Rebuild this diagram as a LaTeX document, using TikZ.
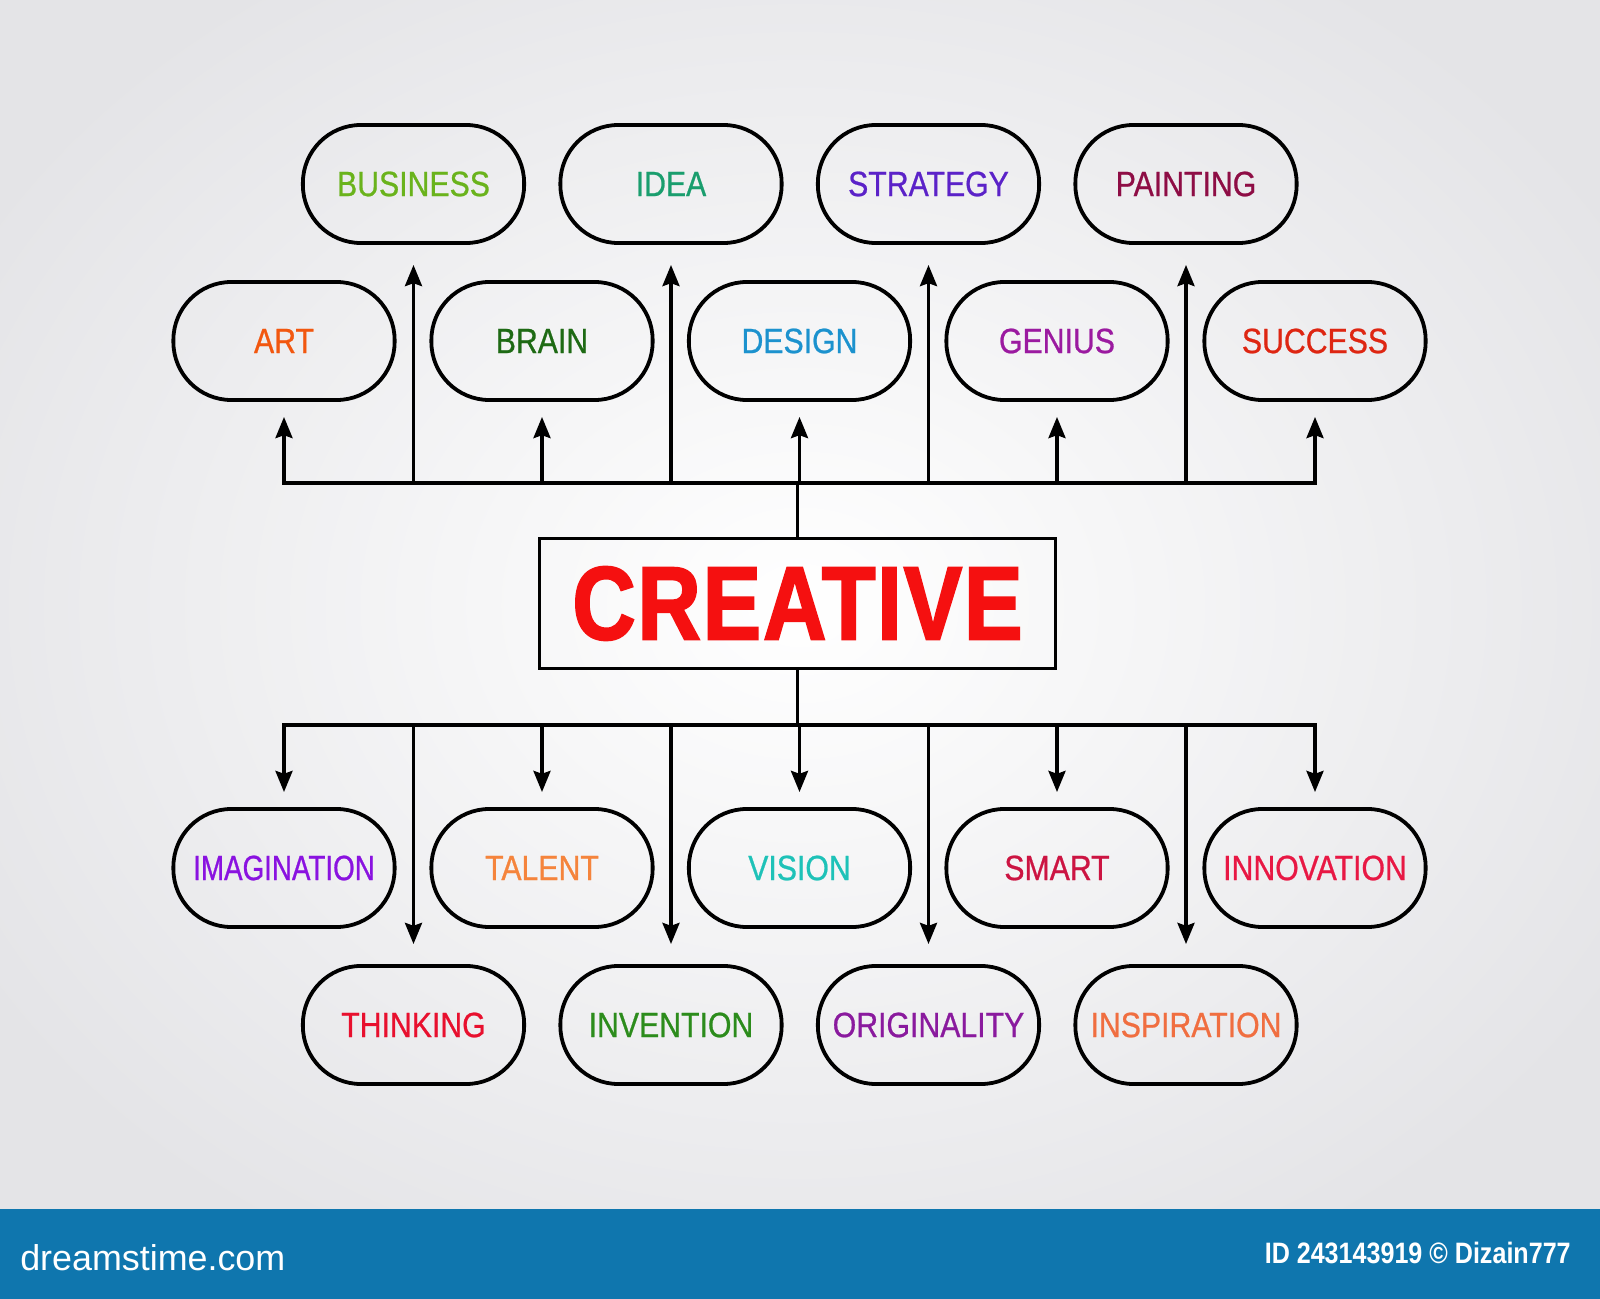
\documentclass[tikz,border=0pt]{standalone}
\usepackage{fontspec}
\usetikzlibrary{arrows.meta}
\newfontfamily\labfont[FakeStretch=0.86,FakeBold=0.7]{Liberation Sans}
\newfontfamily\narrowlabfont[FakeStretch=0.79,FakeBold=0.7]{Liberation Sans}
\newfontfamily\bigfont[FakeStretch=0.84,FakeBold=2,LetterSpace=2]{Liberation Sans Bold}
\newfontfamily\bannerfont{Liberation Sans}
\newfontfamily\idfont[FakeStretch=0.85]{Liberation Sans Bold}
\definecolor{cBusiness}{HTML}{6AB31C}
\definecolor{cIdea}{HTML}{1A9E6E}
\definecolor{cStrategy}{HTML}{5B22C8}
\definecolor{cPainting}{HTML}{8E0D45}
\definecolor{cArt}{HTML}{F2570F}
\definecolor{cBrain}{HTML}{1E6A14}
\definecolor{cDesign}{HTML}{1C92CE}
\definecolor{cGenius}{HTML}{9B1AA0}
\definecolor{cSuccess}{HTML}{DE2612}
\definecolor{cImag}{HTML}{8A12E0}
\definecolor{cTalent}{HTML}{F5843C}
\definecolor{cVision}{HTML}{1EC2B8}
\definecolor{cSmart}{HTML}{CC1442}
\definecolor{cInnov}{HTML}{E81844}
\definecolor{cThink}{HTML}{E8102E}
\definecolor{cInvent}{HTML}{2C8C1C}
\definecolor{cOrig}{HTML}{8A1A9E}
\definecolor{cInsp}{HTML}{F06E40}
\definecolor{cCreative}{HTML}{F51010}
\definecolor{cBanner}{HTML}{0F76AE}
\definecolor{cBg}{HTML}{E4E4E7}
\tikzset{
  bub/.style={draw=black, line width=2.7pt, rounded corners=1.45cm,
    minimum width=5.53cm, minimum height=2.95cm, inner sep=0pt,
    font=\labfont\fontsize{25pt}{25pt}\selectfont},
  wire/.style={draw=black, line width=2.7pt},
  arr/.style={wire, -{Stealth[length=15pt,width=12pt,inset=2pt]}},
  shortarr/.style={arr, shorten >=0.375cm},
  longarr/.style={arr, shorten >=0.5cm},
}
\begin{document}
\begin{tikzpicture}[x=0.025cm,y=-0.025cm]
\useasboundingbox (0,0) rectangle (1600,1299);
% background
\shade[inner color=white, outer color=cBg] (-150,-150) rectangle (1750,1360);
\fill[cBanner] (0,1209) rectangle (1600,1299);
% central node
\node[draw=black, line width=2.7pt, minimum width=12.9cm, minimum height=3.25cm,
  inner sep=0pt, text=cCreative, font=\bigfont\fontsize{74pt}{74pt}\selectfont]
  (C) at (797.5,603.5) {CREATIVE};
% top rows
\node[bub, text=cBusiness] (business) at (413.5,184) {BUSINESS};
\node[bub, text=cIdea] (idea) at (671,184) {IDEA};
\node[bub, text=cStrategy] (strategy) at (928.5,184) {STRATEGY};
\node[bub, text=cPainting] (painting) at (1186,184) {PAINTING};
\node[bub, text=cArt] (art) at (284,341) {ART};
\node[bub, text=cBrain] (brain) at (542,341) {BRAIN};
\node[bub, text=cDesign] (design) at (799.5,341) {DESIGN};
\node[bub, text=cGenius] (genius) at (1057,341) {GENIUS};
\node[bub, text=cSuccess] (success) at (1315,341) {SUCCESS};
% bottom rows
\node[bub, text=cImag, font=\narrowlabfont\fontsize{25pt}{25pt}\selectfont] (imagination) at (284,868) {IMAGINATION};
\node[bub, text=cTalent] (talent) at (542,868) {TALENT};
\node[bub, text=cVision] (vision) at (799.5,868) {VISION};
\node[bub, text=cSmart] (smart) at (1057,868) {SMART};
\node[bub, text=cInnov] (innovation) at (1315,868) {INNOVATION};
\node[bub, text=cThink] (thinking) at (413.5,1025) {THINKING};
\node[bub, text=cInvent] (invention) at (671,1025) {INVENTION};
\node[bub, text=cOrig] (originality) at (928.5,1025) {ORIGINALITY};
\node[bub, text=cInsp] (inspiration) at (1186,1025) {INSPIRATION};
% bars
\coordinate (tb) at (799.5,483);
\coordinate (bb) at (799.5,725);
\draw[wire] (C.north) -- (C.north |- tb);
\draw[wire, line cap=rect] (art.south |- tb) -- (success.south |- tb);
\draw[wire] (C.south) -- (C.south |- bb);
\draw[wire, line cap=rect] (imagination.north |- bb) -- (innovation.north |- bb);
% top arrows
\foreach \n in {art,brain,design,genius,success}
  \draw[shortarr] (\n.south |- tb) -- (\n.south);
\foreach \n in {business,idea,strategy,painting}
  \draw[longarr] (\n.south |- tb) -- (\n.south);
% bottom arrows
\foreach \n in {imagination,talent,vision,smart,innovation}
  \draw[shortarr] (\n.north |- bb) -- (\n.north);
\foreach \n in {thinking,invention,originality,inspiration}
  \draw[longarr] (\n.north |- bb) -- (\n.north);
% banner texts
\node[anchor=west, inner sep=0pt, text=white, font=\bannerfont\fontsize{25.5pt}{25.5pt}\selectfont]
  (logo) at (20,1258) {dreamstime.com};
\node[anchor=east, inner sep=0pt, text=white, font=\idfont\fontsize{21pt}{21pt}\selectfont]
  (credit) at (1571,1253) {ID 243143919 © Dizain777};
\end{tikzpicture}
\end{document}
